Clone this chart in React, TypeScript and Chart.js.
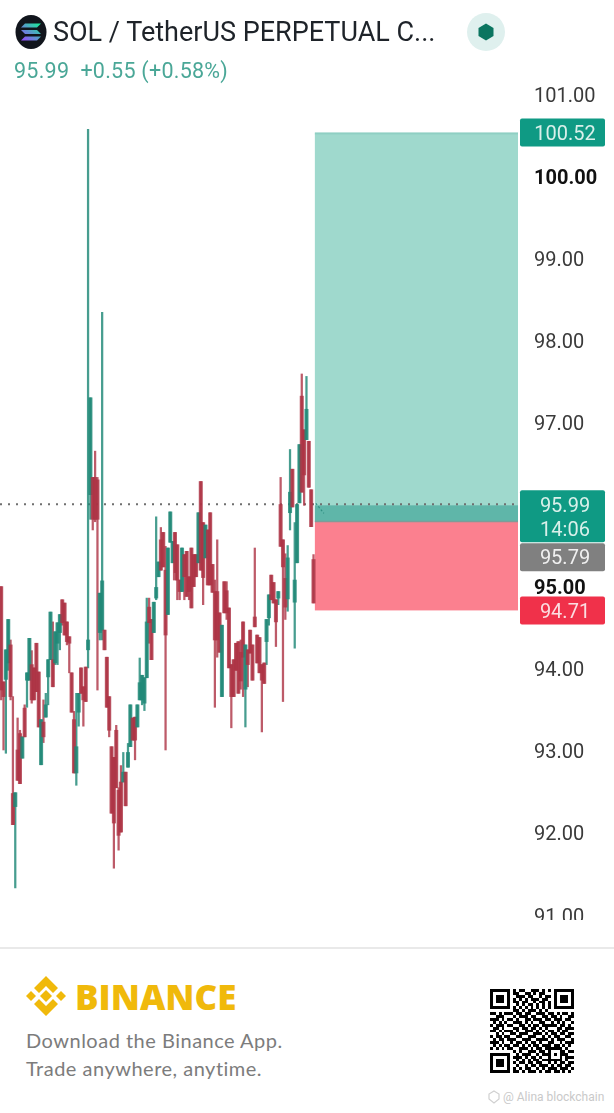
import React, { useEffect, useRef } from "react";
import { Chart, registerables } from "chart.js";

Chart.register(...registerables);

// OHLC (price units)
const opens = [95.0,93.84,93.87,94.07,94.29,92.48,92.32,93.01,93.21,92.91,93.52,93.86,93.86,94.05,94.01,94.31,93.96,92.83,93.35,93.41,93.9,94.11,94.11,94.07,94.31,94.44,94.84,94.8,94.57,94.39,93.95,93.38,92.73,93.47,94.01,93.78,94.02,94.23,96.12,96.33,96.33,96.3,94.44,94.47,94.47,94.14,93.66,93.05,92.92,93.25,92.52,92.62,92.62,92.74,92.8,93.05,93.4,93.41,93.29,93.62,93.62,93.58,93.89,94.75,94.6,94.44,94.86,95.12,95.57,95.66,95.2,94.66,95.54,95.29,95.66,95.51,95.08,94.94,95.39,95.43,95.12,95.47,95.39,95.39,95.29,96.28,95.78,95.35,95.69,95.9,95.27,94.94,94.94,94.68,93.66,95.06,94.95,94.74,94.05,94.11,94.31,94.33,94.2,94.57,93.75,94.23,94.47,94.29,94.63,94.41,94.38,94.05,94.07,94.33,94.62,95.14,95.05,94.84,94.86,96.0,95.57,95.1,94.85,95.9,96.43,94.81,95.29,96.02,97.32,96.91,96.79,96.77,96.18,95.33];
const highs = [95.0,93.84,94.23,94.6,94.35,93.66,92.49,93.4,93.25,93.17,93.56,93.95,94.37,94.22,94.01,94.31,93.96,93.38,93.62,93.7,94.11,94.69,94.57,94.45,94.56,94.66,94.84,94.8,94.57,94.39,93.95,93.48,93.7,93.7,94.01,93.78,94.02,100.57,97.3,96.33,96.65,96.33,94.92,98.34,94.47,94.14,93.66,93.05,92.92,93.31,92.55,92.82,92.98,92.74,93.09,93.56,93.4,93.41,93.56,94.13,93.92,93.89,94.86,94.86,94.6,94.81,95.85,95.3,95.72,95.66,95.49,95.47,95.91,95.55,95.66,95.51,95.08,95.47,95.39,95.43,95.12,95.47,95.39,95.39,95.9,96.28,95.78,95.75,95.69,95.9,95.27,95.08,95.57,94.68,94.53,95.06,95.06,94.74,94.05,94.11,94.31,94.33,94.35,94.57,94.29,94.23,94.47,94.29,95.47,94.41,94.38,94.05,94.07,94.6,94.9,95.14,95.05,94.84,94.94,96.33,95.57,95.4,95.5,96.67,96.43,95.78,96.0,96.73,97.59,96.91,97.56,96.77,96.18,95.39];
const lows = [93.62,93.01,92.97,93.98,93.62,92.1,91.33,92.64,92.6,92.91,93.17,93.53,93.86,93.58,93.62,93.72,93.29,92.83,93.1,93.41,93.56,94.11,93.78,94.05,94.05,94.23,94.53,94.41,94.29,93.95,93.47,92.73,92.58,93.3,93.7,93.3,93.6,94.01,95.82,95.69,95.79,93.74,94.35,94.35,94.23,93.53,93.17,92.24,91.57,92.55,91.79,92.01,92.62,92.33,92.8,93.05,93.13,92.89,93.29,93.62,93.56,93.49,93.89,94.31,94.11,94.44,94.84,95.12,95.2,95.24,93.01,94.66,95.54,95.29,95.17,94.84,94.84,94.94,94.84,94.88,94.84,94.74,95.0,95.12,95.29,95.2,94.78,95.35,95.02,95.02,94.93,93.53,94.14,94.2,93.66,94.68,94.6,94.01,93.28,93.66,93.98,93.7,93.75,93.66,93.29,93.78,94.19,93.86,94.51,94.07,93.95,93.23,93.82,94.05,94.53,94.84,94.8,94.27,94.78,95.49,93.6,94.6,94.7,95.69,95.97,94.25,95.29,96.02,96.15,95.99,96.79,96.21,95.73,94.8];
const closes = [93.74,93.66,94.23,94.6,93.66,92.1,92.49,92.64,92.6,93.17,93.17,93.95,94.37,93.62,93.62,93.72,93.29,93.38,93.17,93.56,94.11,94.69,93.78,94.45,94.56,94.66,94.56,94.41,94.33,94.31,93.47,92.73,93.05,93.7,93.7,93.62,93.6,94.35,97.3,95.82,95.82,95.82,94.92,95.07,94.23,93.53,93.25,92.24,92.12,92.55,91.97,92.01,92.74,92.33,92.98,93.56,93.13,93.13,93.56,93.83,93.92,93.89,94.57,94.56,94.11,94.81,94.99,95.3,95.2,95.24,94.41,95.47,95.91,95.55,95.08,95.08,94.94,95.47,95.12,94.88,94.94,94.74,95.0,95.12,95.9,95.2,95.11,95.75,95.02,95.02,94.93,94.35,94.35,94.2,94.53,94.68,94.68,94.01,93.66,93.66,93.98,93.7,93.85,94.14,94.29,94.05,94.19,93.86,94.51,94.07,93.95,93.86,93.82,94.6,94.9,94.84,94.8,94.57,94.94,95.49,95.24,94.75,95.35,96.15,95.97,95.08,96.0,96.73,96.15,96.36,97.16,96.21,95.73,94.8];

const axisTicks = [91, 92, 93, 94, 95, 96, 97, 98, 99, 100, 101];
const boldTicks = [95, 100];
const takeProfit = 100.52;
const lastPrice = 95.99;
const entryPrice = 95.79;
const stopLoss = 94.71;
const countdown = "14:06";
const slotCount = 221;
const slotLabels = Array.from({ length: slotCount }, (_, i) => String(i));

const qrRows = [
  "11111110101100111010101111111",
  "10000010110011010110001000001",
  "10111010011101100101101011101",
  "10111010101010111011001011101",
  "10111010110110010110101011101",
  "10000010010101101010101000001",
  "11111110101010101010101111111",
  "00000000110101110101000000000",
  "11010111011011001110110101101",
  "00111000101110110011011010011",
  "11101011010011011101101110110",
  "01010100111010100110010101001",
  "10111011001101011011111011010",
  "01101000110110110101000110111",
  "11010111010011101010110101100",
  "00101001101110011101011011011",
  "10110110011001110010101100110",
  "01011011100111001111010111001",
  "11101001011010110100110010111",
  "01010110110101011011101101010",
  "10101011001110101101111110100",
  "00000000101001110110100011011",
  "11111110010111001011101011100",
  "10000010111010110100100010111",
  "10111010010101011011111110100",
  "10111010101101101100101011011",
  "10111010010010110111010110110",
  "10000010101011001010111011101",
  "11111110110101110101101101010",
];

const UP = "rgba(30,135,118,0.82)";
const DOWN = "rgba(172,50,68,0.8)";
const label = (ctx: any, text: string, x: number, y: number, color: string) => {
  ctx.fillStyle = color;
  ctx.font = "20px Roboto";
  ctx.textAlign = "center";
  ctx.textBaseline = "middle";
  ctx.fillText(text, x, y + 1.5);
};
const badge = (ctx: any, top: number, h: number, color: string) => {
  ctx.fillStyle = color;
  ctx.beginPath();
  ctx.roundRect(520, top, 85, h, 2);
  ctx.fill();
};

const positionPlugin = {
  id: "position",
  beforeDatasetsDraw(chart: any) {
    const { ctx, scales } = chart;
    const y = scales.y;
    const left = scales.x.getPixelForValue(opens.length) - 1;
    const right = scales.x.right - 1;
    const py = (v: number) => y.getPixelForValue(v);
    ctx.save();
    ctx.fillStyle = "#9fd9cd";
    ctx.fillRect(left, py(takeProfit), right - left, py(entryPrice) - py(takeProfit));
    ctx.fillStyle = "#8fcfc3";
    ctx.fillRect(left, py(takeProfit) - 1, right - left, 2);
    ctx.fillStyle = "#5fb6a9";
    ctx.fillRect(left, py(lastPrice), right - left, py(entryPrice) - py(lastPrice));
    ctx.fillStyle = "#fb808f";
    ctx.fillRect(left, py(entryPrice), right - left, py(stopLoss) - py(entryPrice));
    ctx.fillStyle = "#7f9c98";
    ctx.fillRect(left, py(entryPrice) - 1, right - left, 1.5);
    ctx.strokeStyle = "#6f6f6f";
    ctx.setLineDash([2, 6]);
    ctx.lineWidth = 2;
    ctx.beginPath();
    ctx.moveTo(0, py(lastPrice) - 1);
    ctx.lineTo(right, py(lastPrice) - 1);
    ctx.stroke();
    ctx.strokeStyle = "#2f8f82";
    ctx.setLineDash([2, 2]);
    ctx.lineWidth = 1.2;
    ctx.beginPath();
    ctx.moveTo(left + 1, py(lastPrice) - 2);
    ctx.lineTo(left + 9, py(lastPrice) + 8);
    ctx.stroke();
    ctx.setLineDash([]);
    ctx.restore();
  },
  afterDraw(chart: any) {
    const { ctx, scales, height } = chart;
    const y = scales.y;
    const py = (v: number) => y.getPixelForValue(v);
    const cx = 565;
    ctx.save();
    ctx.fillStyle = "#fff";
    ctx.fillRect(520, chart.chartArea.bottom - 1, 94, height - chart.chartArea.bottom + 1);
    const tpTop = py(takeProfit) - 15;
    badge(ctx, tpTop, 28, "#0f9a84");
    label(ctx, takeProfit.toFixed(2), cx, tpTop + 15, "#d9f0ea");
    const lastTop = py(lastPrice) - 15;
    badge(ctx, lastTop, 52, "#0f9a84");
    label(ctx, lastPrice.toFixed(2), cx, lastTop + 15, "#d9f0ea");
    label(ctx, countdown, cx, lastTop + 39, "#d9f0ea");
    const entryTop = lastTop + 53;
    badge(ctx, entryTop, 28, "#808080");
    label(ctx, entryPrice.toFixed(2), cx, entryTop + 14, "#f0f0f0");
    const stopTop = py(stopLoss) - 14;
    badge(ctx, stopTop, 28, "#f0314a");
    label(ctx, stopLoss.toFixed(2), cx, stopTop + 15, "#fbdde1");
    ctx.restore();
  },
};

function QrCode() {
  const d = qrRows
    .map((row, r) =>
      row
        .split("")
        .map((c, i) => (c === "1" ? `M${i} ${r}h1v1h-1z` : ""))
        .join("")
    )
    .join("");
  return (
    <svg width={84} height={84} viewBox="0 0 29 29" shapeRendering="crispEdges" style={{ position: "absolute", left: 490, top: 989 }}>
      <path d={d} fill="#000" />
    </svg>
  );
}

function BinanceMark() {
  return (
    <svg width={42} height={42} viewBox="0 0 42 42" style={{ position: "absolute", left: 25, top: 975 }}>
      <g fill="#f0b90b">
        <path d="M21 1 L33 13 L28 18 L21 11 L14 18 L9 13 Z" />
        <path d="M21 41 L33 29 L28 24 L21 31 L14 24 L9 29 Z" />
        <path d="M1 21 L6 16 L11 21 L6 26 Z" />
        <path d="M31 21 L36 16 L41 21 L36 26 Z" />
        <path d="M21 15 L27 21 L21 27 L15 21 Z" />
      </g>
    </svg>
  );
}

function SolIcon() {
  return (
    <svg width={32} height={36} viewBox="0 0 32 36" style={{ position: "absolute", left: 15, top: 14 }}>
      <defs>
        <linearGradient id="sol" x1="0" y1="1" x2="1" y2="0">
          <stop offset="0" stopColor="#9945ff" />
          <stop offset="1" stopColor="#14f195" />
        </linearGradient>
      </defs>
      <ellipse cx="16" cy="18" rx="15.5" ry="17" fill="#11151c" />
      <path d="M10 9.5h16l-4 4H6zM6 16h16l4 4H10zM10 22.5h16l-4 4H6z" fill="url(#sol)" />
    </svg>
  );
}

const textBase: React.CSSProperties = { position: "absolute", whiteSpace: "nowrap", lineHeight: 1 };

export default function App() {
  const ref = useRef<HTMLCanvasElement | null>(null);
  useEffect(() => {
    document.body.style.margin = "0";
    document.body.style.overflow = "hidden";
    const chart = new Chart(ref.current as HTMLCanvasElement, {
      type: "bar",
      data: {
        labels: slotLabels,
        datasets: [
          {
            label: "wicks",
            data: lows.map((l, i) => [l, highs[i]]),
            backgroundColor: opens.map((o, i) => (closes[i] >= o ? UP : DOWN)),
            barThickness: 1.6,
            grouped: false,
            order: 2,
          },
          {
            label: "bodies",
            data: opens.map((o, i) => [Math.min(o, closes[i]), Math.max(o, closes[i])]),
            backgroundColor: opens.map((o, i) => (closes[i] >= o ? UP : DOWN)),
            barThickness: 3.4,
            grouped: false,
            order: 1,
          },
        ],
      } as any,
      options: {
        animation: false,
        responsive: false,
        devicePixelRatio: 1,
        layout: { autoPadding: false, padding: { top: 0, bottom: 27, left: 0, right: 0 } },
        plugins: { legend: { display: false }, tooltip: { enabled: false } },
        scales: {
          x: { display: false, grid: { display: false } },
          y: {
            position: "right",
            min: 90.927,
            max: 102.145,
            grid: { display: false },
            border: { display: false },
            afterFit: (s: any) => {
              s.width = 95;
              s.paddingTop = 0;
              s.paddingBottom = 0;
            },
            afterBuildTicks: (s: any) => {
              s.ticks = axisTicks.map((value) => ({ value }));
            },
            ticks: {
              padding: 7,
              labelOffset: 2.5,
              autoSkip: false,
              callback: (v: any) => Number(v).toFixed(2),
              color: (c: any) => (boldTicks.includes(c.tick?.value) ? "#111" : "#3a3a3a"),
              font: (c: any) => ({
                family: "Roboto",
                size: 20,
                weight: boldTicks.includes(c.tick?.value) ? "bold" : "normal",
              }),
            },
          },
        },
      } as any,
      plugins: [positionPlugin],
    });
    return () => chart.destroy();
  }, []);

  return (
    <div style={{ position: "absolute", left: 0, top: 0, width: 614, height: 1113, background: "#fff", overflow: "hidden", fontFamily: "Roboto" }}>
      <canvas ref={ref} width={614} height={948} style={{ position: "absolute", left: 0, top: 0, width: 614, height: 948, filter: "blur(0.4px)" }} />
      <SolIcon />
      <div style={{ ...textBase, left: 53, top: 19, fontSize: 27, color: "#1e2329" }}>SOL / TetherUS PERPETUAL C...</div>
      <div style={{ ...textBase, left: 14, top: 60, fontSize: 21.5, letterSpacing: 0.25, color: "#4aa797" }}>95.99&nbsp; +0.55 (+0.58%)</div>
      <svg width={40} height={40} viewBox="0 0 40 40" style={{ position: "absolute", left: 466, top: 12 }}>
        <circle cx="20" cy="20" r="19" fill="#dff0ee" />
        <path d="M20 11.5 L27.5 16 V24 L20 28.5 L12.5 24 V16 Z" fill="#0b7560" />
      </svg>
      <div style={{ position: "absolute", left: 0, top: 947, width: 614, height: 2, background: "#e9e9e9" }} />
      <BinanceMark />
      <div style={{ ...textBase, left: 75, top: 979, fontSize: 35, fontWeight: 800, color: "#f0b90b", fontFamily: "Open Sans" }}>BINANCE</div>
      <div style={{ ...textBase, left: 26, top: 1030, fontSize: 20, color: "#7c7c7c", fontFamily: "Lato", letterSpacing: 0.5 }}>Download the Binance App.</div>
      <div style={{ ...textBase, left: 26, top: 1058, fontSize: 20, color: "#7c7c7c", fontFamily: "Lato", letterSpacing: 0.5 }}>Trade anywhere, anytime.</div>
      <QrCode />
      <div style={{ ...textBase, left: 503, top: 1091, fontSize: 12, color: "#c9c9c9", fontFamily: "Roboto" }}>@ Alina blockchain</div>
      <svg width={14} height={14} viewBox="0 0 14 14" style={{ position: "absolute", left: 487, top: 1090 }}>
        <path d="M7 1 L12 4 V9 L7 13 L2 9 V4 Z" fill="none" stroke="#d0d0d0" strokeWidth="1.2" />
      </svg>
    </div>
  );
}
